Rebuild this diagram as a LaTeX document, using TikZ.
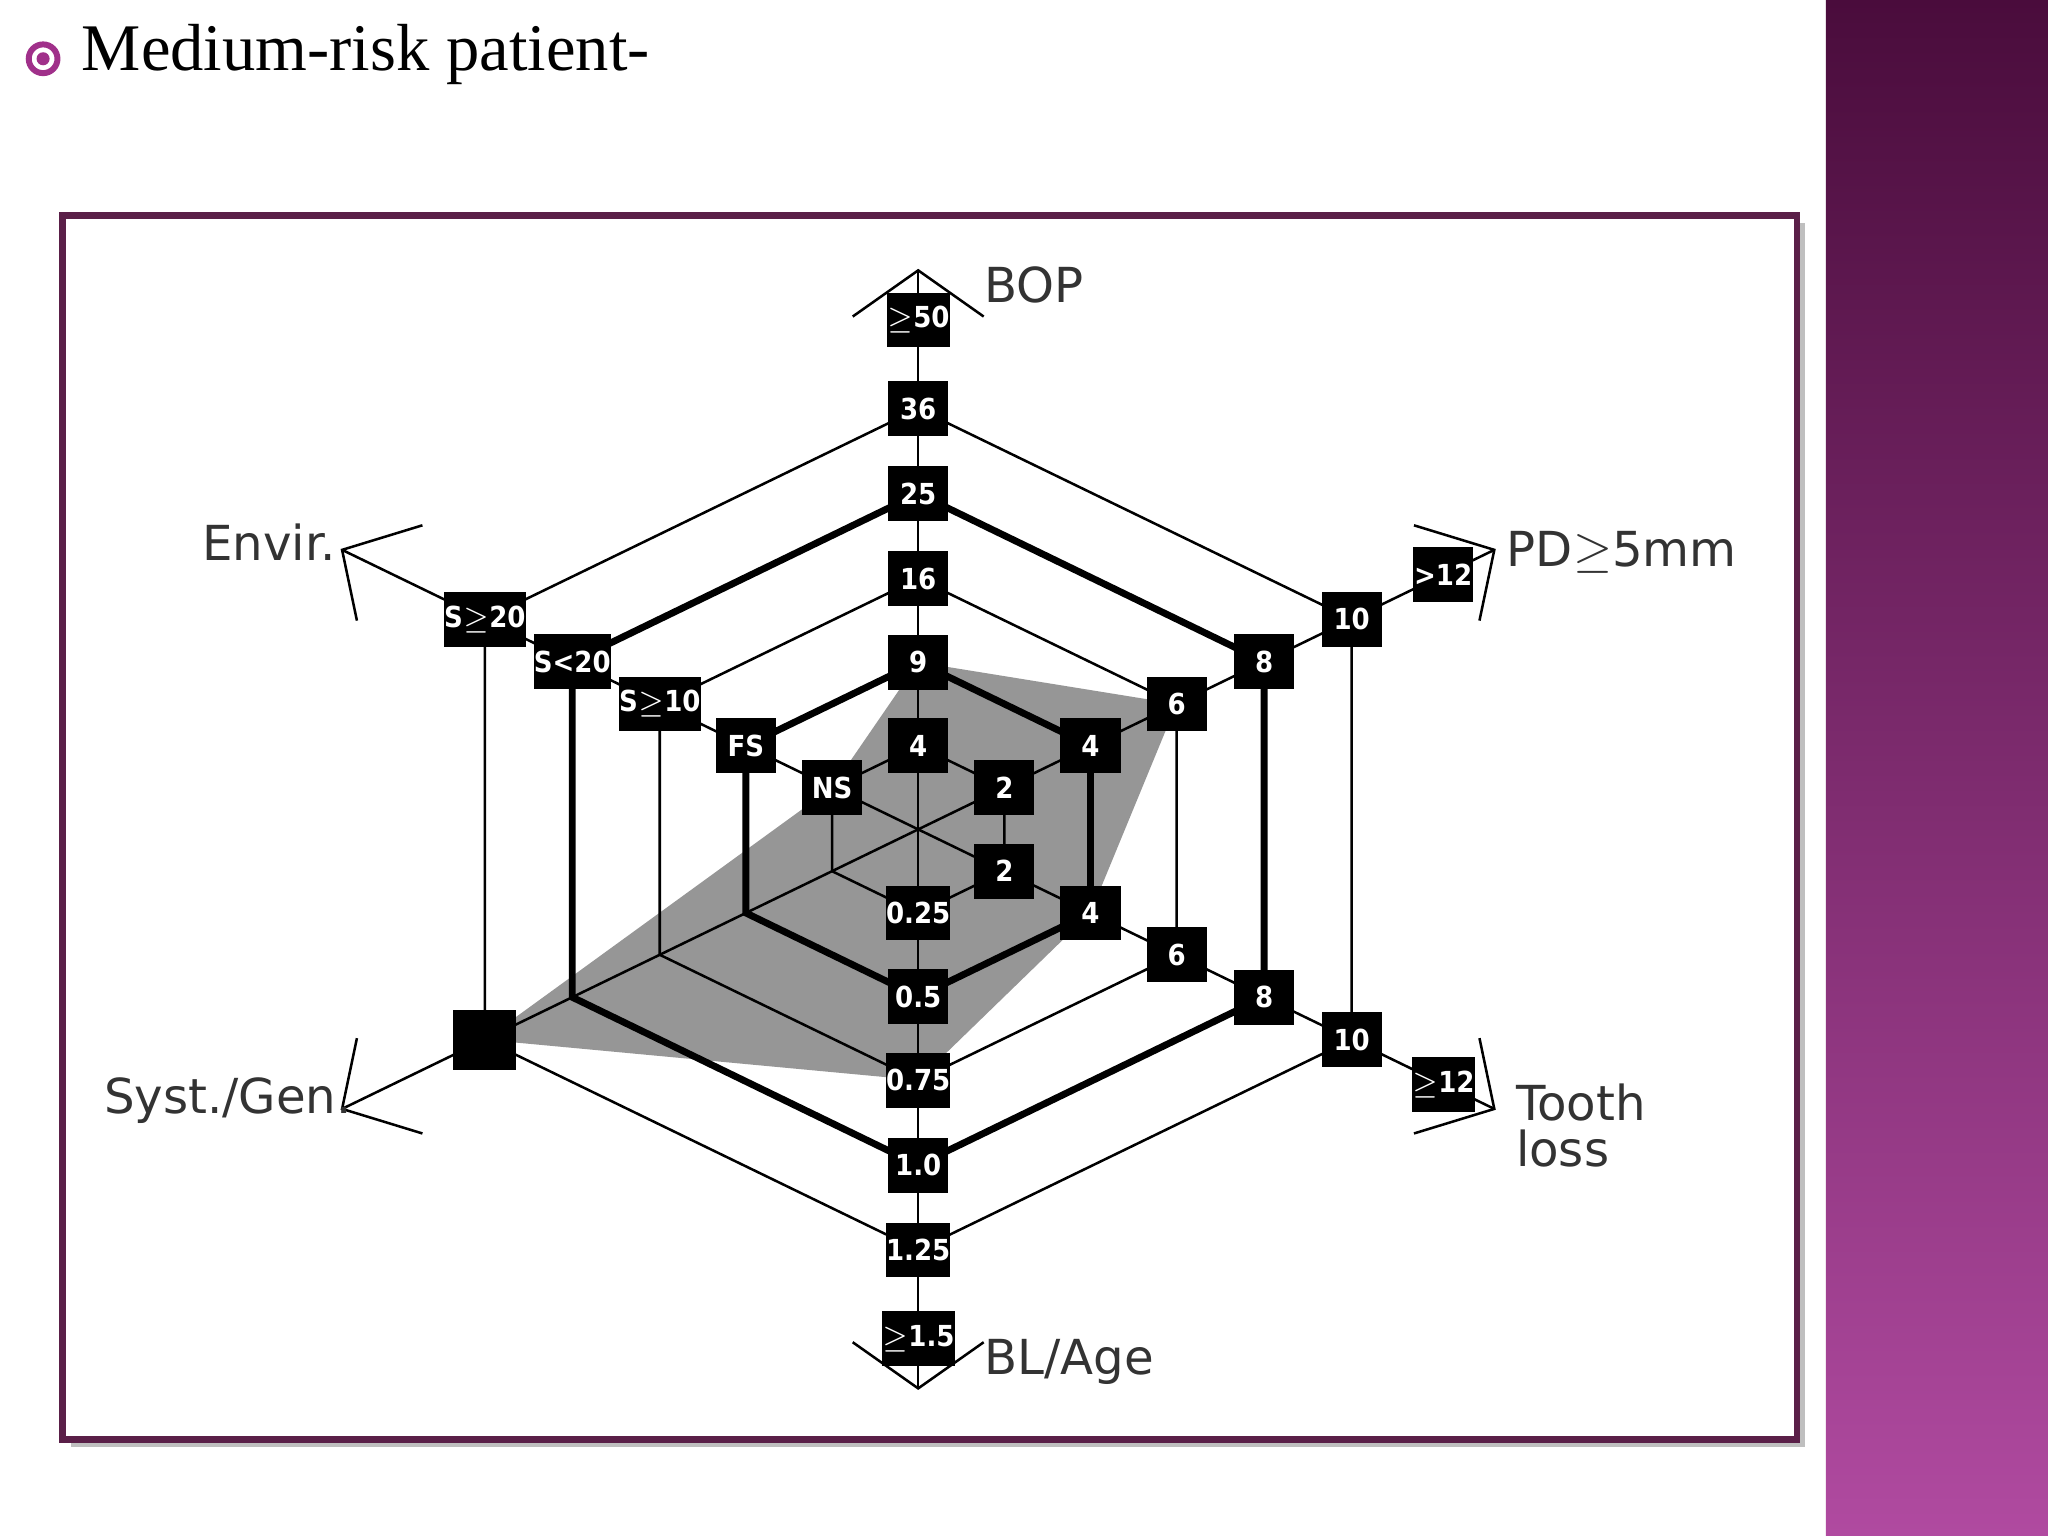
\documentclass[tikz,border=0pt]{standalone}
\usepackage{fontspec}
\setmainfont{Liberation Serif}
\newfontfamily\lab{DejaVu Sans}
\newfontfamily\boxf{DejaVu Sans Condensed}
\definecolor{frame}{HTML}{5A1F48}
\definecolor{bullet}{HTML}{A0308A}
\definecolor{fillg}{RGB}{150,150,150}
\definecolor{bandtop}{HTML}{4A0C3C}
\definecolor{bandbot}{HTML}{B04AA0}
\tikzset{
 thinl/.style={line width=0.55pt,black},
 thickl/.style={line width=1.5pt,black},
 box/.style={fill=black,text=white,minimum width=0.46cm,minimum height=0.42cm,inner sep=0pt,font=\boxf\bfseries\fontsize{6.3}{7}\selectfont},
 axlab/.style={font=\lab\fontsize{10.5}{12}\selectfont,text=black!80,inner sep=0pt}
}
\begin{document}
\begin{tikzpicture}[x=0.01cm,y=-0.01cm]
\useasboundingbox (0,0) rectangle (1568,1176);
\fill[white] (0,0) rectangle (1398,1176);
\shade[top color=bandtop,bottom color=bandbot] (1398,0) rectangle (1568,1176);
% title
\node[circle,draw=bullet,line width=1.3pt,minimum size=0.22cm,inner sep=0pt] (bul) at (33,45) {};
\fill[bullet] (bul) circle (5);
\node[anchor=west,inner sep=0pt,font=\fontsize{14.5}{16}\selectfont] (title) at (62,42) {Medium-risk patient-};
% frame
\fill[black!25] (54,171) rectangle (1382,1108);
\draw[frame,line width=1.4pt,fill=white] (48,165) rectangle (1376,1102);
% coordinates
\coordinate (c) at (703,635);
\foreach \n/\a in {bop/90,pd/30,tl/-30,bl/-90,sg/210,en/150}{
 \foreach \k/\r in {1/64,2/128,3/192,4/257,5/322,6/390,7/428}{
  \coordinate (\n\k) at ({703+1.19*\r*cos(\a)},{635-\r*sin(\a)});
 }
 \coordinate (\n L) at ({703+1.19*(428*cos(\a)+55*cos(\a+130))},{635-(428*sin(\a)+55*sin(\a+130))});
 \coordinate (\n R) at ({703+1.19*(428*cos(\a)+55*cos(\a-130))},{635-(428*sin(\a)+55*sin(\a-130))});
}
% gray region
\fill[fillg] (bop2) -- (pd3) -- (tl2) -- (bl3) -- (sg5) -- (en1) -- cycle;
% spokes and arrowheads
\foreach \n in {bop,pd,tl,bl,sg,en}{
 \draw[thinl] (c) -- (\n7);
 \draw[thinl] (\n L) -- (\n7) -- (\n R);
}
% rings
\draw[thinl] (bop1)--(pd1)--(tl1)--(bl1)--(sg1)--(en1)--cycle;
\draw[thickl] (bop2)--(pd2)--(tl2)--(bl2)--(sg2)--(en2)--cycle;
\draw[thinl] (bop3)--(pd3)--(tl3)--(bl3)--(sg3)--(en3)--cycle;
\draw[thickl] (bop4)--(pd4)--(tl4)--(bl4)--(sg4)--(en4)--cycle;
\draw[thinl] (bop5)--(pd5)--(tl5)--(bl5)--(sg5)--(en5)--cycle;
% boxes
\node[box] (b1) at (bop1) {4};
\node[box] (b2) at (bop2) {9};
\node[box] (b3) at (bop3) {16};
\node[box] (b4) at (bop4) {25};
\node[box] (b5) at (bop5) {36};
\node[box] (b6) at (bop6) {$\geq$50};
\node[box] (p1) at (pd1) {2};
\node[box] (p2) at (pd2) {4};
\node[box] (p3) at (pd3) {6};
\node[box] (p4) at (pd4) {8};
\node[box] (p5) at (pd5) {10};
\node[box] (p6) at (pd6) {>12};
\node[box] (t1) at (tl1) {2};
\node[box] (t2) at (tl2) {4};
\node[box] (t3) at (tl3) {6};
\node[box] (t4) at (tl4) {8};
\node[box] (t5) at (tl5) {10};
\node[box] (t6) at (tl6) {$\geq$12};
\node[box] (l1) at (bl1) {0.25};
\node[box] (l2) at (bl2) {0.5};
\node[box] (l3) at (bl3) {0.75};
\node[box] (l4) at (bl4) {1.0};
\node[box] (l5) at (bl5) {1.25};
\node[box] (l6) at (bl6) {$\geq$1.5};
\node[box,minimum width=0.48cm,minimum height=0.46cm] (s5) at (sg5) {};
\node[box] (e1) at (en1) {NS};
\node[box] (e2) at (en2) {FS};
\node[box] (e3) at (en3) {S$\geq$10};
\node[box] (e4) at (en4) {S<20};
\node[box] (e5) at (en5) {S$\geq$20};
% axis labels
\node[axlab,anchor=west] (lbop) at (753,218) {BOP};
\node[axlab,anchor=west] (lpd) at (1153,423) {PD$\geq$5mm};
\node[axlab,anchor=west,align=left] (ltl) at (1160,862) {Tooth\\[-2pt]loss};
\node[axlab,anchor=west] (lbl) at (753,1043) {BL/Age};
\node[axlab,anchor=east] (lsg) at (270,843) {Syst./Gen.};
\node[axlab,anchor=east] (len) at (258,415) {Envir.};
\end{tikzpicture}
\end{document}
